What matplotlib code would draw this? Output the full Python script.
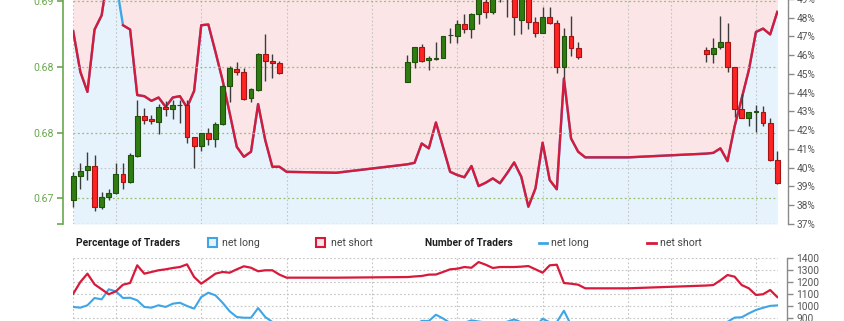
import numpy as np
import matplotlib
matplotlib.use('Agg')
import matplotlib.pyplot as plt
from matplotlib.patches import Rectangle
from matplotlib.lines import Line2D
from matplotlib.ticker import FixedLocator, FuncFormatter

plt.rcParams['font.family'] = ['Roboto', 'DejaVu Sans']

# ---------------- data ----------------
candle_slots = list(range(0, 30)) + list(range(47, 72)) + list(range(89, 100))
opens = [0.67390, 0.67536, 0.67572, 0.67596, 0.67349, 0.67410, 0.67430, 0.67548, 0.67497, 0.67659,
         0.67902, 0.67880, 0.67866, 0.67957, 0.67941, 0.67965, 0.67967, 0.67775, 0.67720, 0.67795,
         0.67759, 0.67852, 0.68085, 0.68186, 0.68170, 0.68012, 0.68058, 0.68277, 0.68235, 0.68221,
         0.68109, 0.68227, 0.68322, 0.68241, 0.68248, 0.68251, 0.68392, 0.68389, 0.68460, 0.68428,
         0.68521, 0.68595, 0.68535, 0.68640, 0.68691, 0.68679, 0.68484, 0.68642, 0.68470, 0.68403,
         0.68504, 0.68464, 0.68197, 0.68387, 0.68312,
         0.68302, 0.68276, 0.68322, 0.68352, 0.68200, 0.67941, 0.67886, 0.67927, 0.67927, 0.67856,
         0.67633]
highs = [0.67562, 0.67616, 0.67680, 0.67663, 0.67436, 0.67455, 0.67616, 0.67613, 0.67677, 0.67998,
         0.67947, 0.67906, 0.67973, 0.67992, 0.67998, 0.67998, 0.67998, 0.67775, 0.67799, 0.67827,
         0.67866, 0.68089, 0.68204, 0.68227, 0.68190, 0.68072, 0.68282, 0.68399, 0.68277, 0.68237,
         0.68271, 0.68322, 0.68338, 0.68265, 0.68352, 0.68389, 0.68434, 0.68484, 0.68519, 0.68528,
         0.68654, 0.68618, 0.68642, 0.68709, 0.68715, 0.68703, 0.68679, 0.68667, 0.68504, 0.68565,
         0.68565, 0.68484, 0.68437, 0.68508, 0.68349,
         0.68322, 0.68376, 0.68510, 0.68468, 0.68200, 0.68032, 0.67927, 0.67967, 0.67961, 0.67886,
         0.67688]
lows = [0.67345, 0.67457, 0.67511, 0.67325, 0.67335, 0.67390, 0.67426, 0.67455, 0.67491, 0.67649,
        0.67852, 0.67852, 0.67789, 0.67900, 0.67880, 0.67860, 0.67734, 0.67582, 0.67689, 0.67724,
        0.67710, 0.67846, 0.67987, 0.68150, 0.67998, 0.67987, 0.68054, 0.68113, 0.68130, 0.68156,
        0.68105, 0.68194, 0.68231, 0.68180, 0.68240, 0.68251, 0.68342, 0.68342, 0.68407, 0.68373,
        0.68458, 0.68494, 0.68521, 0.68595, 0.68500, 0.68393, 0.68397, 0.68428, 0.68379, 0.68403,
        0.68458, 0.68164, 0.68130, 0.68265, 0.68245,
        0.68227, 0.68221, 0.68308, 0.68170, 0.67892, 0.67886, 0.67841, 0.67801, 0.67841, 0.67627,
        0.67485]
closes = [0.67536, 0.67568, 0.67596, 0.67349, 0.67410, 0.67430, 0.67546, 0.67497, 0.67663, 0.67902,
          0.67876, 0.67868, 0.67953, 0.67941, 0.67965, 0.67967, 0.67775, 0.67720, 0.67799, 0.67759,
          0.67852, 0.68085, 0.68190, 0.68170, 0.68004, 0.68063, 0.68277, 0.68235, 0.68221, 0.68164,
          0.68227, 0.68322, 0.68237, 0.68255, 0.68250, 0.68389, 0.68393, 0.68460, 0.68429, 0.68521,
          0.68636, 0.68535, 0.68624, 0.68697, 0.68630, 0.68500, 0.68654, 0.68470, 0.68403, 0.68504,
          0.68464, 0.68197, 0.68387, 0.68312, 0.68259,
          0.68276, 0.68316, 0.68352, 0.68200, 0.67941, 0.67886, 0.67927, 0.67928, 0.67856, 0.67633,
          0.67491]

sent_slots = list(range(0, 31)) + [37] + list(range(47, 73)) + [78] + list(range(89, 100))
long_pct = [47.27, 45.11, 44.04, 47.36, 48.12, 50.60, 49.93, 47.59, 47.36, 43.87,
            43.81, 43.56, 43.74, 43.24, 43.74, 43.81, 43.21, 44.09, 47.59, 47.63,
            46.17, 44.66, 42.91, 41.11, 40.58, 40.85, 43.39, 41.47, 40.05, 40.05,
            39.78,
            39.73,
            40.18, 40.26, 41.29, 41.03, 42.41, 41.10, 39.78, 39.61, 39.49, 40.09,
            39.02, 39.20, 39.43, 39.17, 39.70, 40.28, 39.52, 37.92, 38.90, 41.33,
            39.34, 38.85, 44.75, 41.56, 40.85, 40.55,
            40.55,
            40.75, 40.79, 41.03, 40.35, 42.20, 43.70, 45.20, 47.23, 47.41, 47.10, 48.30]
short_missing_slots = [6]
short_count = [1102, 1199, 1268, 1180, 1139, 1098, 1122, 1177, 1191, 1337,
               1268, 1282, 1296, 1304, 1315, 1323, 1345, 1241, 1185, 1226,
               1268, 1282, 1276, 1304, 1329, 1317, 1288, 1296, 1296, 1260,
               1235,
               1235,
               1240, 1245, 1249, 1260, 1261, 1282, 1304, 1309, 1323, 1317,
               1364, 1342, 1315, 1323, 1323, 1323, 1326, 1331, 1304, 1276,
               1337, 1342, 1191, 1185, 1177, 1147,
               1147,
               1170, 1174, 1213, 1257, 1243, 1174, 1147, 1092, 1098, 1133, 1075]
long_count = [993, 987, 1007, 1067, 1056, 1139, 1122, 1067, 1069, 1048,
              993, 987, 1007, 993, 1020, 1028, 1001, 979, 1075, 1111,
              1089, 1028, 957, 910, 904, 904, 984, 910, 869, 842,
              816,
              814,
              833, 839, 878, 877, 929, 898, 861, 859, 863, 882,
              873, 865, 856, 852, 871, 890, 866, 813, 830, 895,
              867, 868, 962, 843, 813, 782,
              782,
              805, 809, 844, 870, 905, 908, 940, 968, 986, 1002, 1006]

day_lines = [0, 6, 18, 30, 42, 54, 66, 78, 84, 96]
price_ticks = [0.674, 0.678, 0.682, 0.686]
pct_ticks = list(range(37, 50))
count_ticks = [900, 1000, 1100, 1200, 1300, 1400]

# ---------------- style ----------------
RED = '#d7193a'
BLUE = '#3ea6e6'
PINK = '#fce5e7'
LBLUE = '#e7f3fc'
GREEN_AX = '#6aa84f'
GRID_G = '#94c26a'
GRID_GRAY = '#c4c4c4'
AX_GRAY = '#8a8a8a'
TXT_GRAY = '#555555'

W, H = 845, 321
fig = plt.figure(figsize=(W / 100, H / 100), dpi=100)
fig.patch.set_facecolor('white')


def box(x0, y0, x1, y1):
    return [x0 / W, (H - y1) / H, (x1 - x0) / W, (y1 - y0) / H]


def px(pt):
    return pt * 0.72


XL = (-0.03, 99.1)

# ---------------- top panel ----------------
ax = fig.add_axes(box(73, -20, 778, 224))
ax2 = ax.twinx()
ax.set_xlim(*XL)
ax.set_ylim(37, 50)
ax.set_facecolor('none')
xs = np.array(sent_slots, dtype=float)
p = np.array(long_pct)
ax.fill_between(xs, p, 50, color=PINK, lw=0, zorder=0)
ax.fill_between(xs, 37, p, color=LBLUE, lw=0, zorder=0)
ax.axhline(40, color=GRID_GRAY, lw=0.8, ls=(0, (1.5, 2)), zorder=1)
ax.axhline(37.02, color=GRID_G, lw=0.9, ls=(0, (1.5, 2)), zorder=1)
for d in day_lines:
    ax.axvline(d, color=GRID_GRAY, lw=0.8, ls=(0, (1.5, 2)), zorder=1)
ax.axvline(XL[1], color=GRID_GRAY, lw=0.8, ls=(0, (1.5, 2)), zorder=1)
ax.plot(xs, p, color=BLUE, lw=1.7, zorder=3, solid_joinstyle='round')
p_red = p.copy()
p_red[np.isin(xs, short_missing_slots)] = np.nan
ax.plot(xs, p_red, color=RED, lw=1.7, zorder=3.5, solid_joinstyle='round')

for s in ['top', 'bottom', 'left']:
    ax.spines[s].set_visible(False)
ax.spines['right'].set_visible(True)
ax.spines['right'].set_position(('outward', px(10)))
ax.spines['right'].set_color(AX_GRAY)
ax.spines['right'].set_linewidth(1.0)
ax.set_xticks([])
ax.yaxis.tick_right()
ax.yaxis.set_label_position('right')
ax.yaxis.set_major_locator(FixedLocator(pct_ticks))
ax.yaxis.set_major_formatter(FuncFormatter(lambda v, _: f'{v:.0f}%'))
ax.tick_params(axis='y', which='both', left=False, labelleft=False, right=True, labelright=True,
               colors=AX_GRAY, labelcolor=TXT_GRAY, labelsize=7.3,
               length=4, width=1, pad=2.5)

ax2.set_xlim(*XL)
ax2.set_ylim(0.672437, 0.687273)
for t in price_ticks:
    ax2.axhline(t, color=GRID_G, lw=0.9, ls=(0, (1.5, 2)), zorder=1)
o = np.array(opens); c = np.array(closes)
hi = np.array(highs); lo = np.array(lows)
up = c >= o
body_col = np.where(up, '#2f7d12', '#ff2323')
edge_col = np.where(up, '#1f5209', '#a31414')
ax2.vlines(candle_slots, lo, hi, color='#3c3c3c', lw=1.0, zorder=4, clip_on=False)
ax2.bar(candle_slots, np.maximum(np.abs(c - o), 1e-7), bottom=np.minimum(o, c), width=0.68,
        color=body_col, edgecolor=edge_col, linewidth=0.8, zorder=5, clip_on=False)
for s in ['top', 'bottom', 'right']:
    ax2.spines[s].set_visible(False)
ax2.spines['left'].set_visible(True)
ax2.spines['left'].set_position(('outward', px(9.5)))
ax2.spines['left'].set_color(GREEN_AX)
ax2.spines['left'].set_linewidth(1.2)
ax2.yaxis.tick_left()
ax2.yaxis.set_label_position('left')
ax2.yaxis.set_major_locator(FixedLocator(price_ticks))
ax2.yaxis.set_major_formatter(FuncFormatter(lambda v, _: f'{v:.2f}'))
ax2.yaxis.set_minor_locator(FixedLocator([0.67245]))
ax2.tick_params(axis='y', which='both', left=True, labelleft=True, right=False, labelright=False,
                colors=GREEN_AX, labelcolor=GREEN_AX, labelsize=7.6,
                length=4.5, width=1.2, pad=2.5)
ax2.set_xticks([])

# ---------------- bottom panel ----------------
bx = fig.add_axes(box(73, 257.7, 778, 340))
bx.set_xlim(*XL)
bx.set_ylim(720, 1400)
bx.set_facecolor('none')
for t in count_ticks:
    bx.axhline(t, color=GRID_GRAY, lw=0.8, ls=(0, (1.5, 2)), zorder=1)
for d in day_lines:
    bx.axvline(d, color=GRID_GRAY, lw=0.8, ls=(0, (1.5, 2)), zorder=1)
bx.axvline(XL[1], color=GRID_GRAY, lw=0.8, ls=(0, (1.5, 2)), zorder=1)
bx.plot(xs, long_count, color=BLUE, lw=1.5, zorder=3, solid_joinstyle='round')
bx.plot(xs, short_count, color=RED, lw=1.6, zorder=3, solid_joinstyle='round')
for s in ['top', 'bottom', 'left']:
    bx.spines[s].set_visible(False)
bx.spines['right'].set_position(('outward', px(9.3)))
bx.spines['right'].set_color(AX_GRAY)
bx.spines['right'].set_linewidth(1.0)
bx.set_xticks([])
bx.yaxis.tick_right()
bx.yaxis.set_major_locator(FixedLocator(count_ticks))
bx.tick_params(axis='y', colors=AX_GRAY, labelcolor=TXT_GRAY, labelsize=7.3,
               length=4, width=1, pad=2.5)

# ---------------- legend row ----------------
LY = (H - 242.5) / H
TF = fig.transFigure


def fx(v):
    return v / W


fig.text(fx(76), LY, 'Percentage of Traders', fontsize=7.4, fontweight='bold',
         color='#1e1e1e', va='center', ha='left')
fig.add_artist(Rectangle((fx(208), (H - 247) / H), 9 / W, 9 / H, transform=TF,
                         facecolor=LBLUE, edgecolor=BLUE, lw=1.5))
fig.text(fx(222), LY, 'net long', fontsize=7.6, color='#444444', va='center', ha='left')
fig.add_artist(Rectangle((fx(316.5), (H - 247) / H), 9 / W, 9 / H, transform=TF,
                         facecolor=PINK, edgecolor=RED, lw=1.5))
fig.text(fx(331), LY, 'net short', fontsize=7.6, color='#444444', va='center', ha='left')
fig.text(fx(425), LY, 'Number of Traders', fontsize=7.4, fontweight='bold',
         color='#1e1e1e', va='center', ha='left')
fig.add_artist(Line2D([fx(539), fx(547)], [LY, LY], transform=TF, color=BLUE, lw=2))
fig.text(fx(551), LY, 'net long', fontsize=7.6, color='#444444', va='center', ha='left')
fig.add_artist(Line2D([fx(647), fx(656)], [LY, LY], transform=TF, color=RED, lw=2))
fig.text(fx(660.5), LY, 'net short', fontsize=7.6, color='#444444', va='center', ha='left')

fig.savefig('out.png', dpi=100)
